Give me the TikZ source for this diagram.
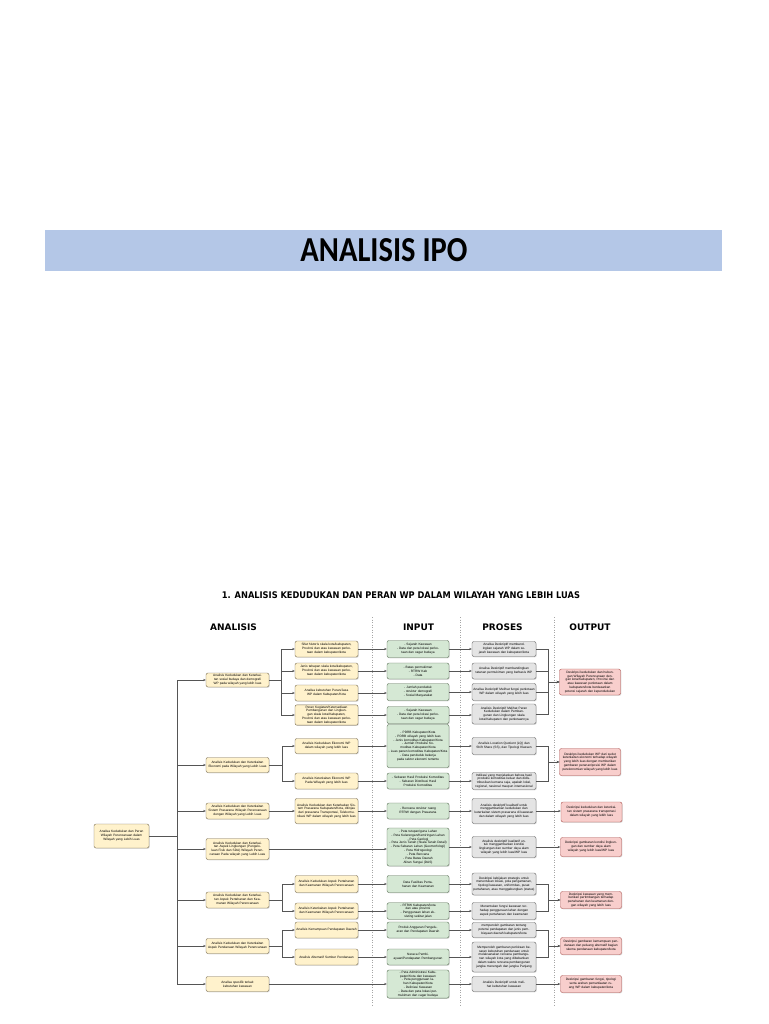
\documentclass[tikz,border=0pt]{standalone}
\usepackage{fontspec}
\usepackage{graphicx}
\setmainfont{Liberation Sans}
\newfontfamily\titlefont{Carlito}
\newfontfamily\headfont{DejaVu Sans}
\usetikzlibrary{arrows.meta,shadows,calc}
\definecolor{band}{RGB}{180,199,231}
\definecolor{anaF}{RGB}{255,242,204}
\definecolor{anaD}{RGB}{120,108,80}
\definecolor{inF}{RGB}{213,232,212}
\definecolor{inD}{RGB}{90,112,86}
\definecolor{prF}{RGB}{228,228,228}
\definecolor{prD}{RGB}{100,100,100}
\definecolor{ouF}{RGB}{248,206,204}
\definecolor{ouD}{RGB}{170,80,76}
\definecolor{lineC}{RGB}{85,85,85}
\tikzset{
  box/.style={rounded corners=2pt, line width=0.4pt, align=center, inner sep=1pt,
    font=\fontsize{3.2}{3.85}\selectfont,
    drop shadow={shadow xshift=0.8pt,shadow yshift=-0.8pt,opacity=0.25}},
  ana/.style={box, fill=anaF, draw=anaD, minimum width=63pt, text width=60.5pt},
  inp/.style={box, fill=inF, draw=inD, minimum width=62pt, text width=59.5pt},
  pro/.style={box, fill=prF, draw=prD, minimum width=64pt, text width=61.5pt},
  outp/.style={box, fill=ouF, draw=ouD, minimum width=61pt, text width=58.5pt},
  h/.style={minimum height=#1},
  conn/.style={draw=lineC, line width=0.45pt},
  arr/.style={conn, -{Stealth[length=2.6pt,width=2.2pt]}},
  sep/.style={draw=black!35, line width=0.5pt, dotted},
  hdr/.style={font=\headfont\bfseries\fontsize{9}{10}\selectfont, inner sep=0pt}
}
\begin{document}
\begin{tikzpicture}[x=1pt,y=-1pt]
\useasboundingbox[fill=white] (0,0) rectangle (768,1024);

% title band
\node[fill=band, minimum width=677pt, minimum height=41pt, inner sep=0pt] (band) at (383.5,250.5) {};
\node[inner sep=0pt] (title) at (384,250.5) {\titlefont\bfseries\resizebox{167pt}{23pt}{ANALISIS IPO}};

% subtitle
\node[inner sep=0pt] (sub) at (401,595) {\headfont\bfseries\resizebox{358pt}{6.8pt}{1. ANALISIS KEDUDUKAN DAN PERAN WP DALAM WILAYAH YANG LEBIH LUAS}};

% column headers
\node[hdr] (hA) at (233.5,627) {ANALISIS};
\node[hdr] (hI) at (418.5,627) {INPUT};
\node[hdr] (hP) at (502.5,627) {PROSES};
\node[hdr] (hO) at (590,627) {OUTPUT};

% separators
\draw[sep] (372,617) -- (372,1006);
\draw[sep] (460,617) -- (460,1006);
\draw[sep] (554,617) -- (554,1006);

% root
\node[box, fill=anaF, draw=anaD, minimum width=55pt, text width=52.5pt, h=24pt] (root) at (121.5,836)
  {Analisa Kedudukan dan Peran Wilayah Perencanaan dalam Wilayah yang Lebih Luas};

% level 1
\node[ana,h=14pt] (n1) at (237.5,680) {Analisis Kedudukan dan Keterkaitan sosial budaya dan demografi WP pada wilayah yang lebih luas};
\node[ana,h=15pt] (n2) at (237.5,765) {Analisis Kedudukan dan Keterkaitan Ekonomi pada Wilayah yang Lebih Luas};
\node[ana,h=16pt] (n3) at (237.5,811) {Analisis Kedudukan dan Keterkaitan Sistem Prasarana Wilayah Perencanaan dengan Wilayah yang Lebih Luas};
\node[ana,h=21pt] (n4) at (237.5,849) {Analisis Kedudukan dan Keterkaitan Aspek Lingkungan (Pengelolaan Fisik dan SDA) Wilayah Perencanaan Pada wilayah yang Lebih Luas};
\node[ana,h=16pt] (n5) at (237.5,900) {Analisis Kedudukan dan Keterkaitan Aspek Pertahanan dan Keamanan Wilayah Perencanaan};
\node[ana,h=15pt] (n6) at (237.5,946) {Analisis Kedudukan dan Keterkaitan Aspek Pendanaan Wilayah Perencanaan};
\node[ana,h=15pt] (n7) at (237.5,984) {Analisa spesifik terkait kebutuhan kawasan};

% level 2
\node[ana,h=16pt] (a1) at (326.5,649) {Sifat historis skala kota/kabupaten, Provinsi dan atau kawasan perkotaan dalam kabupaten/kota};
\node[ana,h=16pt] (a2) at (326.5,671) {Jenis tahapan skala kota/kabupaten, Provinsi dan atau kawasan perkotaan dalam kabupaten/kota};
\node[ana,h=16pt] (a3) at (326.5,693) {Analisa kebutuhan Peran/Jasa WP dalam Kabupaten/Kota};
\node[ana,h=17pt] (a4) at (326.5,715) {Peran Kegiatan/Ketersediaan Pembangunan dan Lingkungan skala kota/Kabupaten, Provinsi dan atau kawasan perkotaan dalam kabupaten/kota};
\node[ana,h=15pt] (b1) at (326.5,746) {Analisis Kedudukan Ekonomi WP dalam wilayah yang lebih luas};
\node[ana,h=16pt] (b2) at (326.5,781) {Analisis Keterkaitan Ekonomi WP Pada Wilayah yang lebih luas};
\node[ana,h=25pt] (c1) at (326.5,811) {Analisis Kedudukan dan Keterkaitan Sistem Prasarana Kabupaten/Kota, ditinjau dari prasarana Transportasi, Telekomunikasi WP dalam wilayah yang lebih luas};
\node[ana,h=17pt] (e1) at (326.5,884) {Analisis Kedudukan Aspek Pertahanan dan Keamanan Wilayah Perencanaan};
\node[ana,h=16pt] (e2) at (326.5,911) {Analisis Keterkaitan Aspek Pertahanan dan Keamanan Wilayah Perencanaan};
\node[ana,h=16pt] (f1) at (326.5,930) {Analisis Kemampuan Pendapatan Daerah};
\node[ana,h=16pt] (f2) at (326.5,957) {Analisis Alternatif Sumber Pendanaan};

% input
\node[inp,h=17pt] (i1) at (418,649) {- Sejarah Kawasan\\- Data dan peta lokasi perkotaan dan cagar budaya};
\node[inp,h=16pt] (i2) at (418,671) {- Batas permukiman\\- RTRW Kab\\- Data};
\node[inp,h=17pt] (i3) at (418,692) {- Jumlah penduduk\\- struktur demografi\\- Sosial Masyarakat};
\node[inp,h=17pt] (i4) at (418,715) {- Sejarah Kawasan\\- Data dan peta lokasi perkotaan dan cagar budaya};
\node[inp,h=43pt] (i5) at (418,746) {- PDRB Kabupaten/Kota\\- PDRB wilayah yang lebih luas\\- Jenis komoditas Kabupaten/Kota\\- Jumlah Produksi Komoditas Kabupaten/Kota\\- Luas panen komoditas Kabupaten/Kota\\- Data penduduk bekerja pada sektor ekonomi tertentu};
\node[inp,h=16pt] (i6) at (418,781) {- Sebaran Hasil Produksi Komoditas\\- Sebaran Distribusi Hasil Produksi Komoditas};
\node[inp,h=16pt] (i7) at (418,811) {- Rencana struktur ruang RTRW dengan Prasarana};
\node[inp,h=38pt] (i8) at (418,847) {- Peta tutupan/guna Lahan\\- Peta Kelerengan/Kemiringan Lahan\\- Peta Geologi\\- Peta Jenis Tanah (Skala Tanah Detail)\\- Peta Sebaran Lahan (Geomorfologi)\\- Peta Hidrogeologi\\- Peta Bencana\\- Peta Batas Daerah Aliran Sungai (DAS)};
\node[inp,h=17pt] (i9) at (418,884) {Data Fasilitas Pertahanan dan Keamanan};
\node[inp,h=16pt] (i10) at (418,911) {- RTRW Kabupaten/kota dan atau provinsi\\- Penggunaan lahan eksisting sekitar jalan};
\node[inp,h=16pt] (i11) at (418,930) {Produk Anggaran Pengeluaran dan Pendapatan Daerah};
\node[inp,h=16pt] (i12) at (418,957) {Neraca Pembiayaan/Pendapatan Pembangunan};
\node[inp,h=26pt] (i13) at (418,984) {- Peta Administrasi Kabupaten/Kota dan kawasan\\- Peta penggunaan lahan Kabupaten/Kota\\- Deliniasi Kawasan\\- Data dan peta lokasi permukiman dan cagar budaya};

% proses
\node[pro,h=15pt] (p1) at (504,649) {Analisa Deskriptif membandingkan sejarah WP dalam sejarah kawasan dan kabupaten/kota};
\node[pro,h=16pt] (p2) at (504,671) {Analisa Deskriptif membandingkan tatanan permukiman yang berbasis WP};
\node[pro,h=17pt] (p3) at (504,692) {Analisa Deskriptif Melihat fungsi perkotaan WP dalam wilayah yang lebih luas};
\node[pro,h=20pt] (p4) at (504,714) {Analisis Deskriptif Melihat Peran Kedudukan dalam Pembangunan dan Lingkungan skala kota/Kabupaten dan perkotaannya};
\node[pro,h=17pt] (p5) at (504,746) {Analisis Location Quotient (LQ) dan Shift Share (SS), dan Tipologi Klassen};
\node[pro,h=17pt] (p6) at (504,781) {Indikasi yang menjelaskan bahwa hasil produksi komoditas keluar dan didistribusikan kemana saja, apakah lokal, regional, nasional maupun internasional};
\node[pro,h=25pt] (p7) at (504,811) {Analisis deskriptif kualitatif untuk menggambarkan kedudukan dan keterkaitan sistem prasarana di kawasan dan dalam wilayah yang lebih luas};
\node[pro,h=21pt] (p8) at (504,847) {Analisis deskriptif kualitatif untuk menggambarkan kondisi lingkungan dan sumber daya alam wilayah yang lebih luas/WP luas};
\node[pro,h=22pt] (p9) at (504,884) {Deskripsi kebijakan strategis untuk menentukan lokasi, pola pengamanan, tipologi kawasan, uniformitas, pusat pertahanan, atau menggabungkan (status)};
\node[pro,h=17pt] (p10) at (504,911) {Menentukan fungsi kawasan terhadap penggunaan lahan dengan aspek pertahanan dan keamanan};
\node[pro,h=15pt] (p11) at (504,930) {memperoleh gambaran tentang potensi pendapatan dan jenis pembiayaan daerah kabupaten/kota};
\node[pro,h=30pt] (p12) at (504,957) {Memperoleh gambaran perkiraan besaran kebutuhan pendanaan untuk melaksanakan rencana pembangunan wilayah kota yang dibebankan dalam waktu rencana pembangunan jangka menengah dan jangka Panjang};
\node[pro,h=15pt] (p13) at (504,984) {Analisis Deskriptif untuk melihat kebutuhan kawasan};

% output
\node[outp,h=26pt] (o1) at (590,682) {Deskripsi kedudukan dan hubungan Wilayah Perencanaan dengan kota/Kabupaten, Provinsi dan atau kawasan perkotaan dalam kabupaten/kota berdasarkan potensi sejarah dan kependudukan};
\node[outp,h=27pt] (o2) at (590,762) {Deskripsi kedudukan WP dari sudut keterkaitan ekonomi terhadap wilayah yang lebih luas dengan memberikan gambaran peranan/posisi WP dalam perekonomian wilayah yang lebih luas};
\node[outp,h=20pt] (o3) at (591.5,812) {Deskripsi kedudukan dan keterkaitan sistem prasarana transportasi dalam wilayah yang lebih luas};
\node[outp,h=19pt] (o4) at (591,847) {Deskripsi gambaran kondisi lingkungan dan sumber daya alam wilayah yang lebih luas/WP luas};
\node[outp,h=17pt] (o5) at (591,900) {Deskripsi kawasan yang memberikan pertimbangan terhadap pertahanan dan keamanan dengan wilayah yang lebih luas};
\node[outp,h=17pt] (o6) at (591,946) {Deskripsi gambaran kemampuan pendanaan dan peluang alternatif bagian skema pendanaan kabupaten/kota};
\node[outp,h=17pt] (o7) at (591,984) {Deskripsi gambaran fungsi, tipologi serta arahan pemanfaatan ruang WP dalam kabupaten/kota};

% trunk from root
\foreach \n in {n1,n2,n3,n4,n5,n6,n7}
  \draw[arr] (root.east) -- ($(root.east)+(28,0)$) |- (\n.west);

% level1 -> level2
\foreach \c in {a1,a2,a3,a4}
  \draw[arr] (n1.east) -- ($(n1.east)+(12,0)$) |- (\c.west);
\foreach \c in {b1,b2}
  \draw[arr] (n2.east) -- ($(n2.east)+(13,0)$) |- (\c.west);
\draw[arr] (n3.east) -- (c1.west);
\foreach \c in {e1,e2}
  \draw[arr] (n5.east) -- ($(n5.east)+(13,0)$) |- (\c.west);
\foreach \c in {f1,f2}
  \draw[arr] (n6.east) -- ($(n6.east)+(13,0)$) |- (\c.west);

% level2 -> input
\foreach \s/\t in {a1/i1,a2/i2,a3/i3,a4/i4,b1/i5,b2/i6,c1/i7,e1/i9,e2/i10,f1/i11,f2/i12}
  \draw[arr] (\s.east) -- (\s.east -| \t.west);
\draw[arr] (n4.east) -- (n4.east -| i8.west);
\draw[arr] (n7.east) -- (n7.east -| i13.west);

% input -> proses
\foreach \k in {1,...,13}
  \draw[arr] (i\k.east) -- (i\k.east -| p\k.west);

% proses -> output
\coordinate (m1) at (548,682);
\coordinate (m2) at (548,762);
\coordinate (m5) at (548,900);
\coordinate (m6) at (548,946);
\foreach \k in {1,2,3,4}
  \draw[arr] (p\k.east) -| (m1) -- (o1.west);
\foreach \k in {5,6}
  \draw[arr] (p\k.east) -| (m2) -- (o2.west);
\foreach \k in {9,10}
  \draw[arr] (p\k.east) -| (m5) -- (o5.west);
\foreach \k in {11,12}
  \draw[arr] (p\k.east) -| (m6) -- (o6.west);
\draw[arr] (p7.east) -- (p7.east -| o3.west);
\draw[arr] (p8.east) -- (p8.east -| o4.west);
\draw[arr] (p13.east) -- (p13.east -| o7.west);
\end{tikzpicture}
\end{document}
